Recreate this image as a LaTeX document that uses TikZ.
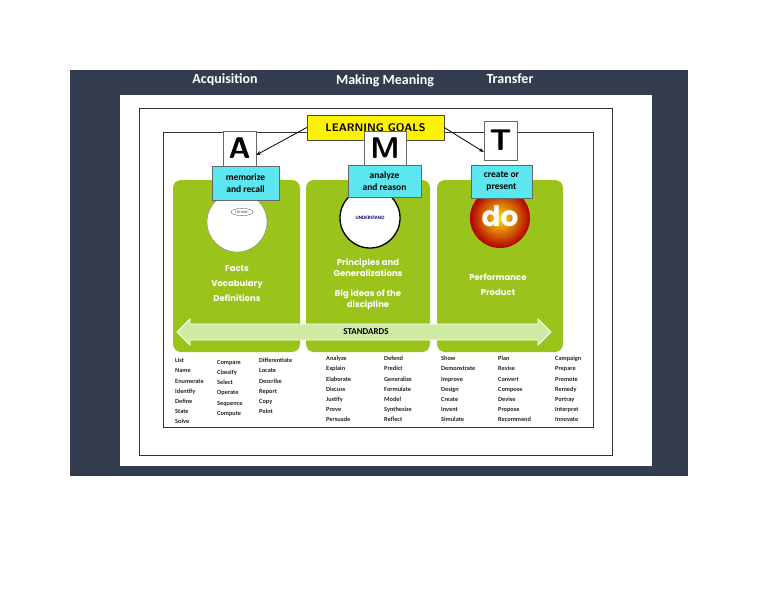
\documentclass[tikz,border=0pt]{standalone}
\usepackage{fontspec}
\setmainfont{Carlito}
\newfontfamily\gfont{Poppins}
\usetikzlibrary{arrows.meta,shapes.arrows,shapes.geometric,shadings}
\definecolor{navy}{HTML}{343D4F}
\definecolor{lgreen}{HTML}{9AC31C}
\definecolor{cyanb}{HTML}{5CE6F0}
\tikzset{
 gbox/.style={fill=lgreen,rounded corners=8pt,draw=none},
 letter/.style={draw=black!60,fill=white,font=\fontsize{30}{30}\selectfont\bfseries\sffamily,inner sep=0pt},
 verb/.style={fill=cyanb,draw=black!60,align=center,font=\fontsize{9.5}{12}\selectfont\bfseries,inner sep=1pt},
 gtext/.style={text=white,align=center,font=\gfont\fontsize{8.5}{15}\selectfont\bfseries},
 words/.style={anchor=north west,align=left,font=\fontsize{6.3}{10.2}\selectfont\bfseries,text=black!85,inner sep=0pt},
 head/.style={text=white,font=\fontsize{14}{14}\selectfont\bfseries},
 conn/.style={-{Stealth[length=5pt]},thick}
}
\begin{document}
\begin{tikzpicture}[x=1pt,y=-1pt]
\useasboundingbox (0,0) rectangle (768,594);
\fill[white] (0,0) rectangle (768,594);
\fill[navy] (70,70) rectangle (688,476);
\node[head] (h1) at (225,80) {Acquisition};
\node[head] (h2) at (385,81) {Making Meaning};
\node[head] (h3) at (510,79) {Transfer};
\fill[white] (120,95) rectangle (652,466);
\draw[black!80,line width=0.8pt] (139,108) rectangle (612,455);
\draw[black!80,line width=0.8pt] (163,132) rectangle (593,427);
% green boxes
\fill[gbox] (173,180) rectangle (300,352);
\fill[gbox] (306,180) rectangle (430,352);
\fill[gbox] (437,180) rectangle (563,352);
% circles
\node[circle,fill=white,draw=black!50,minimum size=60pt] (c1) at (237,222) {};
\node[font=\fontsize{4.5}{4.5}\selectfont,text=black!70,draw=black!60,ellipse,inner sep=1pt] (c1t) at (242,212) {I know!};
\node[circle,fill=white,draw=black,line width=1.3pt,minimum size=60pt,font=\fontsize{5}{5}\selectfont\bfseries,text=blue!50!black] (c2) at (370,218) {UNDERSTAND};
\shade[inner color=yellow!80!orange,outer color=red!70!black] (500,218) circle (30);
\node[text=white,font=\gfont\fontsize{28}{28}\selectfont\bfseries] (c3) at (500,216) {do};
% green texts
\node[gtext] (t1) at (237,284) {Facts\\Vocabulary\\Definitions};
\node[gtext,font=\gfont\fontsize{8.5}{11}\selectfont\bfseries] (t2a) at (368,268) {Principles and\\Generalizations};
\node[gtext,font=\gfont\fontsize{8.5}{11}\selectfont\bfseries] (t2b) at (368,300) {Big ideas of the\\discipline};
\node[gtext] (t3) at (498,285) {Performance\\Product};
% standards arrow
\node[double arrow,fill=green!12!lgreen!40,draw=white,line width=0.8pt,minimum height=374pt,minimum width=26pt,double arrow head extend=4pt,inner xsep=0pt,inner ysep=6pt] (std) at (364,332) {};
\node[font=\fontsize{9}{9}\selectfont\bfseries] (stdt) at (366,332) {STANDARDS};
% learning goals
\node[fill=yellow,draw=black!70,minimum width=137pt,minimum height=25pt,font=\sffamily\fontsize{11}{11}\selectfont\bfseries] (lg) at (375.5,127.5) {LEARNING GOALS};
% letters
\node[letter,minimum width=33pt,minimum height=35pt] (A) at (239.5,148.5) {A};
\node[letter,minimum width=42pt,minimum height=34pt] (M) at (385,148) {M};
\node[letter,minimum width=33pt,minimum height=39pt] (T) at (500.5,140.5) {T};
\draw[conn] (lg.west) -- (A.east |- 0,155);
\draw[conn] (lg.east) -- (T.west |- 0,152);
% verbs
\node[verb,minimum width=67pt,minimum height=34pt] (v1) at (245.5,183) {memorize\\and recall};
\node[verb,minimum width=73pt,minimum height=32pt] (v2) at (384.5,181) {analyze\\and reason};
\node[verb,minimum width=61pt,minimum height=33pt] (v3) at (501.5,181.5) {create or\\present};
% word lists
\node[words] (w1) at (175,358) {List\\Name\\Enumerate\\Identify\\Define\\State\\Solve};
\node[words] (w2) at (217,360) {Compare\\Classify\\Select\\Operate\\Sequence\\Compute};
\node[words] (w3) at (259,358) {Differentiate\\Locate\\Describe\\Report\\Copy\\Point};
\node[words] (w4) at (326,356) {Analyze\\Explain\\Elaborate\\Discuss\\Justify\\Prove\\Persuade};
\node[words] (w5) at (384,356) {Defend\\Predict\\Generalize\\Formulate\\Model\\Synthesize\\Reflect};
\node[words] (w6) at (441,356) {Show\\Demonstrate\\Improve\\Design\\Create\\Invent\\Simulate};
\node[words] (w7) at (498,356) {Plan\\Revise\\Convert\\Compose\\Devise\\Propose\\Recommend};
\node[words] (w8) at (555,356) {Campaign\\Prepare\\Promote\\Remedy\\Portray\\Interpret\\Innovate};
\end{tikzpicture}
\end{document}
